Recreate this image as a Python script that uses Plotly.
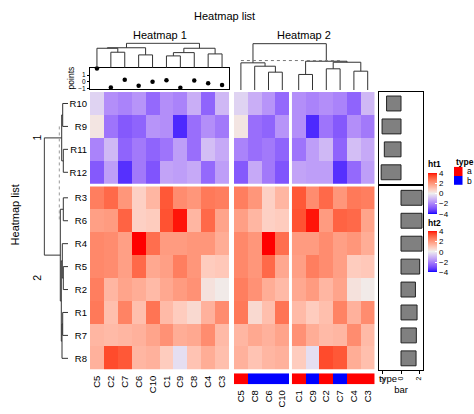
import numpy as np
import plotly.graph_objects as go

W, H = 474, 414

# ---------------- data ----------------
h1_cols = ["C5", "C2", "C7", "C6", "C10", "C1", "C9", "C8", "C4", "C3"]
h2_cols_a = ["C5", "C8", "C6", "C10"]
h2_cols_b = ["C1", "C9", "C2", "C7", "C4", "C3"]
rows_top = ["R10", "R9", "R11", "R12"]
rows_bot = ["R3", "R6", "R4", "R5", "R2", "R1", "R7", "R8"]

# matrix values, each row listed in h1_cols order
R10 = [-0.5, -1.8, -2.0, -1.7, -2.5, -1.8, -2.0, -1.2, -2.6, -1.0]
R9 = [0.2, -2.3, -2.8, -2.6, -1.7, -1.8, -3.6, -2.4, -1.8, -2.2]
R11 = [-2.0, -1.0, -2.6, -2.2, -2.6, -2.3, -1.5, -2.4, -0.9, -1.3]
R12 = [-2.8, -1.5, -3.5, -2.2, -2.9, -1.4, -1.5, -1.3, -2.5, -1.5]
R3 = [2.5, 2.9, 2.0, 0.7, 1.3, 3.2, 2.2, 2.0, 2.6, 2.5]
R6 = [1.8, 1.9, 3.0, 0.7, 0.8, 3.3, 3.9, 1.3, 2.9, 1.7]
R4 = [2.3, 2.2, 1.8, 4.0, 2.8, 1.9, 1.9, 2.0, 2.0, 1.5]
R5 = [2.3, 2.2, 1.8, 2.9, 1.6, 1.8, 2.5, 2.0, 0.8, 0.9]
R2 = [2.5, 1.3, 1.7, 1.5, 1.2, 1.6, 1.9, 2.1, 0.3, 0.1]
R1 = [2.6, 1.1, 2.4, 1.1, 2.7, 1.2, 0.8, 0.5, 1.4, 2.2]
R7 = [1.3, 1.2, 1.3, 1.4, 1.7, 2.1, 1.5, 1.6, 2.2, 1.2]
R8 = [1.4, 3.4, 3.2, 1.3, 1.4, 0.8, -0.3, 1.0, 1.5, 1.1]

# points annotation (h1_cols order)
points_vals = [1.98, -0.86, 0.33, -0.6, 0.0, 0.23, -0.9, 0.19, -0.2, -0.48]
# bar annotation (rows_top + rows_bot order)
bar_vals = [-1.6, -2.1, -1.85, -2.2, 2.33, 2.33, 2.33, 2.07, 1.6, 1.78, 1.7, 1.67]
# type annotation
type_of = {"C1": "a", "C2": "a", "C3": "a", "C4": "a", "C5": "a",
           "C6": "b", "C7": "b", "C8": "b", "C9": "b", "C10": "b"}
type_levels = ["a", "b"]
type_colors = ["#FF0000", "#0000FF"]

# dendrograms: (left, right, height) ; heights in arbitrary units
dend_h1 = ((("C5", ("C2", "C7", 15.7), 19.7), ("C6", "C10", 13.0), 20.2),
           ((("C1", "C9", 12.0), "C8", 15.3), ("C4", "C3", 14.0), 19.7), 24.7)
dend_h2 = (("C5", ("C8", ("C6", "C10", 18.0), 24.0), 27.4),
           (("C1", "C9", 15.7), (("C2", "C7", 21.4), ("C4", "C3", 19.0), 28.0), 29.0), 46.7)
dend_h2_cut = 29.7
dend_rows = ((("R10", "R9", 5.3), ("R11", "R12", 4.7), 6.3),
             (("R3", "R6", 4.7), (("R4", ("R5", "R2", 4.7), 5.7), (("R1", "R7", 5.3), "R8", 6.0), 6.7), 7.7), 23.7)
dend_rows_cut = 8.7

mat = dict(R10=R10, R9=R9, R11=R11, R12=R12, R3=R3, R6=R6, R4=R4, R5=R5,
           R2=R2, R1=R1, R7=R7, R8=R8)


def sub(rows, cols):
    return [[mat[r][h1_cols.index(c)] for c in cols] for r in rows]


# ---------------- colour ramp (LAB interpolation like colorRamp2) ----------------
def _to_lab(hexc):
    r, g, b = [int(hexc[i:i + 2], 16) / 255 for i in (1, 3, 5)]
    lin = lambda c: c / 12.92 if c <= 0.04045 else ((c + 0.055) / 1.055) ** 2.4
    r, g, b = lin(r), lin(g), lin(b)
    X = 0.4124 * r + 0.3576 * g + 0.1805 * b
    Y = 0.2126 * r + 0.7152 * g + 0.0722 * b
    Z = 0.0193 * r + 0.1192 * g + 0.9505 * b
    f = lambda t: t ** (1 / 3) if t > 0.008856 else 7.787 * t + 16 / 116
    fx, fy, fz = f(X / 0.95047), f(Y), f(Z / 1.08883)
    return np.array([116 * fy - 16, 500 * (fx - fy), 200 * (fy - fz)])


def _to_hex(lab):
    L, a, b = lab
    fy = (L + 16) / 116
    fx = fy + a / 500
    fz = fy - b / 200
    finv = lambda t: t ** 3 if t ** 3 > 0.008856 else (t - 16 / 116) / 7.787
    X, Y, Z = 0.95047 * finv(fx), finv(fy), 1.08883 * finv(fz)
    rgb = [3.2406 * X - 1.5372 * Y - 0.4986 * Z,
           -0.9689 * X + 1.8758 * Y + 0.0415 * Z,
           0.0557 * X - 0.2040 * Y + 1.0570 * Z]
    gam = lambda c: 12.92 * c if c <= 0.0031308 else 1.055 * c ** (1 / 2.4) - 0.055
    return "#%02x%02x%02x" % tuple(int(round(max(0, min(1, gam(max(0, c)))) * 255)) for c in rgb)


lb, lm, lr = _to_lab("#0000FF"), _to_lab("#EEEEEE"), _to_lab("#FF0000")
cscale = []
for t in np.linspace(0, 1, 41):
    v = -4 + 8 * t
    if v <= 0:
        s = (v + 4) / 4
        lab = lb + (lm - lb) * s
    else:
        s = v / 4
        lab = lm + (lr - lm) * s
    cscale.append([float(t), _to_hex(lab)])

# ---------------- layout helpers ----------------
FONT = "Liberation Sans, Arial, sans-serif"
fig = go.Figure()
axes_layout = {}
count = [0]


def new_axes(box, xkw=None, ykw=None):
    count[0] += 1
    k = count[0]
    s = "" if k == 1 else str(k)
    x0, y0, x1, y1 = box
    base = dict(showgrid=False, zeroline=False, showticklabels=False, ticks="",
                showline=False, fixedrange=True, tickfont=dict(family=FONT, size=9, color="black"))
    xa = dict(base, domain=[x0 / W, x1 / W], anchor="y" + s)
    ya = dict(base, domain=[1 - y1 / H, 1 - y0 / H], anchor="x" + s)
    xa.update(xkw or {})
    ya.update(ykw or {})
    axes_layout["xaxis" + s] = xa
    axes_layout["yaxis" + s] = ya
    return "x" + s, "y" + s


H1X = (90, 229)
H2AX = (234, 289.2)
H2BX = (291.8, 374.6)
TOPY = (92.7, 185.1)
BOTY = (187.7, 372.5)
BARX = (379, 423)

row_lab = dict(showticklabels=True, tickfont=dict(family=FONT, size=9.5, color="black"),
               autorange="reversed", ticklabelstandoff=2)
col_lab = dict(showticklabels=True, tickangle=-90, side="bottom",
               tickfont=dict(family=FONT, size=9.5, color="black"), ticklabelstandoff=3)

# heatmap 1
for rows, ybox, last in [(rows_top, TOPY, False), (rows_bot, BOTY, True)]:
    xa, ya = new_axes((H1X[0], ybox[0], H1X[1], ybox[1]), col_lab if last else None, row_lab)
    fig.add_trace(go.Heatmap(z=sub(rows, h1_cols), x=h1_cols, y=rows, coloraxis="coloraxis",
                             xaxis=xa, yaxis=ya, hoverinfo="skip"))

# heatmap 2
for cols, xbox in [(h2_cols_a, H2AX), (h2_cols_b, H2BX)]:
    for rows, ybox in [(rows_top, TOPY), (rows_bot, BOTY)]:
        xa, ya = new_axes((xbox[0], ybox[0], xbox[1], ybox[1]), None, dict(autorange="reversed"))
        fig.add_trace(go.Heatmap(z=sub(rows, cols), x=cols, y=rows, coloraxis="coloraxis2",
                                 xaxis=xa, yaxis=ya, hoverinfo="skip"))

# type annotation
tcs = [[0, type_colors[0]], [0.5, type_colors[0]], [0.5, type_colors[1]], [1, type_colors[1]]]
for cols, xbox in [(h2_cols_a, H2AX), (h2_cols_b, H2BX)]:
    xa, ya = new_axes((xbox[0], 376, xbox[1], 387), col_lab, None)
    fig.add_trace(go.Heatmap(z=[[type_levels.index(type_of[c]) for c in cols]], x=cols, y=["type"],
                             colorscale=tcs, zmin=0, zmax=1, showscale=False,
                             xaxis=xa, yaxis=ya, hoverinfo="skip"))

# points annotation
box_ax = dict(showline=True, mirror=True, linecolor="black", linewidth=1)
xa, ya = new_axes((H1X[0], 68.3, H1X[1], 89.5),
                  dict(box_ax, range=[-0.5, 9.5]),
                  dict(box_ax, range=[-1.05, 2.1], showticklabels=True, tickvals=[-1, 0, 1],
                       ticks="outside", ticklen=2, tickcolor="black",
                       tickfont=dict(family=FONT, size=6.5, color="black")))
fig.add_trace(go.Scatter(x=list(range(len(h1_cols))), y=points_vals, mode="markers",
                         marker=dict(color="black", size=4.5), xaxis=xa, yaxis=ya,
                         hoverinfo="skip", cliponaxis=False))


# dendrograms
def dend_lines(tree, pos):
    xs, ys = [], []

    def rec(node):
        if isinstance(node, str):
            return pos[node], 0.0
        l, r, h = node
        pl, hl = rec(l)
        pr, hr = rec(r)
        xs.extend([pl, pl, pr, pr, None])
        ys.extend([hl, h, h, hr, None])
        return (pl + pr) / 2, h

    rec(tree)
    return xs, ys


DCOL = "#333333"
# heat1 column dendrogram
p1 = {c: i for i, c in enumerate(h1_cols)}
hx, hy = dend_lines(dend_h1, p1)
top1 = dend_h1[2] + 1
xa, ya = new_axes((H1X[0], 68.3 - top1, H1X[1], 68.3), dict(range=[-0.5, 9.5]), dict(range=[0, top1]))
fig.add_trace(go.Scatter(x=hx, y=hy, mode="lines", line=dict(color=DCOL, width=1),
                         xaxis=xa, yaxis=ya, hoverinfo="skip"))

# heat2 column dendrogram
cw2 = (H2BX[1] - H2BX[0]) / len(h2_cols_b)
g2 = (H2BX[0] - H2AX[1]) / cw2
p2 = {c: i for i, c in enumerate(h2_cols_a)}
p2.update({c: len(h2_cols_a) + g2 + i for i, c in enumerate(h2_cols_b)})
hx, hy = dend_lines(dend_h2, p2)
top2 = dend_h2[2] + 1
xa, ya = new_axes((H2AX[0], 90.7 - top2, H2BX[1], 90.7),
                  dict(range=[-0.5, len(h2_cols_a) + g2 + len(h2_cols_b) - 0.5]), dict(range=[0, top2]))
fig.add_trace(go.Scatter(x=hx, y=hy, mode="lines", line=dict(color=DCOL, width=1),
                         xaxis=xa, yaxis=ya, hoverinfo="skip"))
fig.add_trace(go.Scatter(x=[p2["C5"], p2["C7"]], y=[dend_h2_cut, dend_h2_cut], mode="lines",
                         line=dict(color="#777777", width=1, dash="dot"),
                         xaxis=xa, yaxis=ya, hoverinfo="skip"))

# row dendrogram
rh = (BOTY[1] - BOTY[0]) / len(rows_bot)
gr = (BOTY[0] - TOPY[1]) / rh
pr = {r: i for i, r in enumerate(rows_top)}
pr.update({r: len(rows_top) + gr + i for i, r in enumerate(rows_bot)})
dx, dy = dend_lines(dend_rows, pr)
topr = dend_rows[2] + 1
xa, ya = new_axes((68 - topr, TOPY[0], 68, BOTY[1]), dict(range=[topr, 0]),
                  dict(range=[len(rows_top) + gr + len(rows_bot) - 0.5, -0.5]))
fig.add_trace(go.Scatter(x=dy, y=dx, mode="lines", line=dict(color=DCOL, width=1),
                         xaxis=xa, yaxis=ya, hoverinfo="skip"))
fig.add_trace(go.Scatter(x=[dend_rows_cut, dend_rows_cut], y=[pr["R9"], pr["R6"]], mode="lines",
                         line=dict(color="#999999", width=1, dash="dot"),
                         xaxis=xa, yaxis=ya, hoverinfo="skip"))

# bar annotation
all_rows = rows_top + rows_bot
for rows, ybox, last in [(rows_top, TOPY, False), (rows_bot, BOTY, True)]:
    xkw = dict(box_ax, range=[-2.44, 2.44])
    if last:
        xkw.update(showticklabels=True, tickvals=[-2, 0, 2], ticks="outside", ticklen=3,
                   tickcolor="black", tickangle=-90,
                   tickfont=dict(family=FONT, size=7, color="black"),
                   title=dict(text="bar", font=dict(family=FONT, size=9.5, color="black"), standoff=2))
    xa, ya = new_axes((BARX[0], ybox[0], BARX[1], ybox[1]), xkw,
                      dict(box_ax, autorange="reversed", type="category"))
    fig.add_trace(go.Bar(x=[bar_vals[all_rows.index(r)] for r in rows], y=rows, orientation="h",
                         width=0.65, marker=dict(color="#808080", line=dict(color="#222222", width=1)),
                         xaxis=xa, yaxis=ya, hoverinfo="skip"))

# type legend
xa, ya = new_axes((454, 168, 462.5, 186.5), None, dict(autorange="reversed"))
fig.add_trace(go.Heatmap(z=[[0], [1]], x=["t"], y=type_levels, colorscale=tcs, zmin=0, zmax=1,
                         showscale=False, xaxis=xa, yaxis=ya, hoverinfo="skip", xgap=0, ygap=0))

# ---------------- layout ----------------
cbase = dict(thickness=9, thicknessmode="pixels", lenmode="pixels", len=56, xanchor="left",
             yanchor="top", outlinewidth=0, tickvals=[-4, -2, 0, 2, 4], ticks="inside",
             ticklen=2, tickcolor="white", xpad=0, ypad=0,
             tickfont=dict(family=FONT, size=8, color="black"))
fig.update_layout(
    width=W, height=H, margin=dict(l=0, r=0, t=0, b=0),
    paper_bgcolor="white", plot_bgcolor="rgba(0,0,0,0)", showlegend=False,
    coloraxis=dict(colorscale=cscale, cmin=-4, cmax=4,
                   colorbar=dict(cbase, x=428 / W, y=1 - 159 / H,
                                 title=dict(text="<b>ht1</b>", side="top",
                                            font=dict(family=FONT, size=8.5, color="black")))),
    coloraxis2=dict(colorscale=cscale, cmin=-4, cmax=4,
                    colorbar=dict(cbase, x=428 / W, y=1 - 218 / H,
                                  title=dict(text="<b>ht2</b>", side="top",
                                             font=dict(family=FONT, size=8.5, color="black")))),
    **axes_layout,
)


def ann(text, x, y, size=10.5, angle=0, xanchor="center", bold=False):
    fig.add_annotation(text=f"<b>{text}</b>" if bold else text, x=x / W, y=1 - y / H,
                       xref="paper", yref="paper", showarrow=False, textangle=angle,
                       xanchor=xanchor, yanchor="middle",
                       font=dict(family=FONT, size=size, color="black"))


ann("Heatmap list", 224, 16, 11)
ann("Heatmap 1", (H1X[0] + H1X[1]) / 2, 35.5, 11)
ann("Heatmap 2", (H2AX[0] + H2BX[1]) / 2, 35.5, 11)
ann("Heatmap list", 15, 217, 11, -90)
ann("1", 36.7, (TOPY[0] + TOPY[1]) / 2, 10.5, -90)
ann("2", 36.7, (BOTY[0] + BOTY[1]) / 2, 10.5, -90)
ann("points", 71, 79, 8.5, -90)
ann("type", 376.5, 381.5, 9.5, 0, "left")
ann("type", 454, 163, 8.5, 0, "left", bold=True)
ann("a", 465, 172.5, 8.5, 0, "left")
ann("b", 465, 182, 8.5, 0, "left")

fig.write_html("out.html")
